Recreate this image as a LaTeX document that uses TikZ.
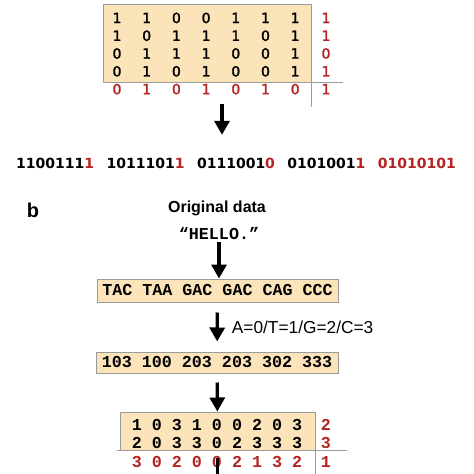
\documentclass[tikz,border=0pt]{standalone}
\usepackage{fontspec}
\setmainfont{Liberation Sans}
\setmonofont{Liberation Mono}
\newfontfamily\digitfont{DejaVu Sans}
\newfontfamily\griddigitfont[BoldFont={DejaVu Sans}, BoldFeatures={FakeBold=1.8}]{DejaVu Sans}
\usetikzlibrary{arrows.meta, positioning}

\definecolor{boxfill}{RGB}{252,228,186}
\definecolor{rulegray}{RGB}{155,155,155}
\definecolor{parityred}{RGB}{180,35,35}

\begin{document}
\begin{tikzpicture}[
    x=1pt, y=-1pt,
    databox/.style={rectangle, draw=rulegray, line width=1pt, fill=boxfill, inner sep=0pt},
    bit/.style={font=\griddigitfont\bfseries\fontsize{14}{14}\selectfont, inner sep=0pt, text height=10pt, text depth=0pt},
    paritybit/.style={bit, text=parityred},
    bitrow/.style={font=\digitfont\bfseries\fontsize{14}{14}\selectfont, inner sep=0pt, text height=10pt, text depth=0pt},
    code/.style={font=\ttfamily\bfseries\fontsize{16.7}{17}\selectfont, inner sep=0pt, text height=9.5pt, text depth=0pt},
    paritycode/.style={code, text=parityred},
    label/.style={font=\fontsize{17.3}{17.3}\selectfont, inner sep=0pt},
    rule/.style={draw=rulegray, line width=1pt},
    arrow/.style={-{Triangle[width=15pt,length=14pt]}, line width=3.3pt}
]
    \clip (0,0) rectangle (474,474);

    % Nodes (a)
    \node[databox, minimum width=208pt, minimum height=78pt] (topbox) at (207,43) {};
    \foreach \row [count=\r] in {{1,1,0,0,1,1,1},{1,0,1,1,1,0,1},{0,1,1,1,0,0,1},{0,1,0,1,0,0,1}}
        \foreach \b [count=\c] in \row
            \node[bit] (b-\r-\c) at ({117+29.7*(\c-1)}, {18+17.8*(\r-1)}) {\b};
    \foreach \b [count=\r] in {1,1,0,1}
        \node[paritybit] (p-\r) at (326, {18+17.8*(\r-1)}) {\b};
    \foreach \b [count=\c] in {0,1,0,1,0,1,0}
        \node[paritybit] (q-\c) at ({117+29.7*(\c-1)}, 89.2) {\b};
    \node[paritybit] (pp) at (326,89.2) {1};
    \draw[rule] (topbox.south west) -- ++(240,0);
    \draw[rule] (topbox.north east) -- ++(0,103);

    \coordinate (gridout) at (222,104);
    \node[bitrow, anchor=west] (bits) at (16,163) {1100111\textcolor{parityred}{1}\hspace{12.5pt}1011101\textcolor{parityred}{1}\hspace{12.5pt}0111001\textcolor{parityred}{0}\hspace{12.5pt}0101001\textcolor{parityred}{1}\hspace{12.5pt}\textcolor{parityred}{01010101}};

    % Nodes (b)
    \node[font=\bfseries\fontsize{20}{20}\selectfont, inner sep=0pt] (tagb) at (33,210) {b};
    \node[label, font=\bfseries\fontsize{16}{16}\selectfont] (orig) at (217,208) {Original data};
    \node[code] (hello) at (219,235) {“HELLO.”};
    \node[databox, code, minimum width=241pt, minimum height=23pt] (tacbox) at (217.5,290.5) {TAC TAA GAC GAC CAG CCC};
    \node[databox, code, minimum width=242pt, minimum height=21pt] (numbox) at (217,362.5) {103 100 203 203 302 333};

    \node[databox, minimum width=195pt, minimum height=38pt] (quadbox) at (217.5,431) {};
    \node[code] (row-1) at (217,426) {1 0 3 1 0 0 2 0 3};
    \node[code] (row-2) at (217,444) {2 0 3 3 0 2 3 3 3};
    \node[paritycode] (row-3) at (217,463) {3 0 2 0 0 2 1 3 2};
    \node[paritycode] (c-1) at (326,426) {2};
    \node[paritycode] (c-2) at (326,444) {3};
    \node[paritycode] (c-3) at (326,463) {1};
    \draw[rule] (quadbox.south west) ++(-3,0) -- ++(230,0);
    \draw[rule] (quadbox.north east) -- ++(0,70);
    \coordinate (out) at (217.5,500);

    % Connections
    \draw[arrow, shorten >=23pt] (gridout) -- (gridout |- bits.north);
    \draw[arrow, shorten <=2pt] (hello.south) -- (hello.south |- tacbox.north);
    \draw[arrow, shorten <=10pt, shorten >=10pt] (tacbox) -- node[label, right=13pt] {A=0/T=1/G=2/C=3} (numbox);
    \draw[arrow, shorten <=9pt] (numbox) -- (quadbox);
    \draw[arrow, shorten <=7pt] (quadbox.south) -- (out);

\end{tikzpicture}
\end{document}
